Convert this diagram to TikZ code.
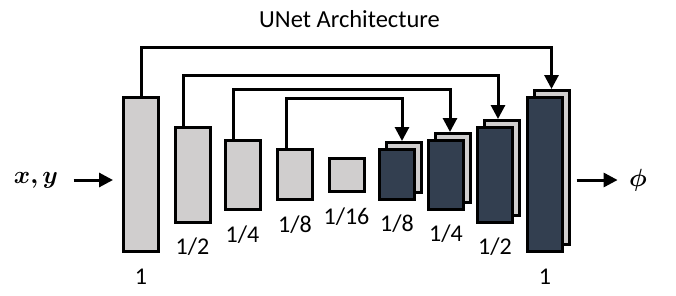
\documentclass[tikz,border=0pt]{standalone}
\usepackage{amsmath, amssymb, bm}
\usepackage{fontspec}
\setmainfont{Carlito}
\usepackage{tikz}
\usetikzlibrary{arrows.meta, calc, positioning}
\definecolor{hell}{HTML}{D0CECE}
\definecolor{dunkel}{HTML}{333F50}

\begin{document}
\begin{tikzpicture}[x=1pt, y=-1pt,
        enc/.style={draw, line width=3pt, fill=hell, minimum width=35pt,
                    inner sep=0pt},
        dec/.style={enc, fill=dunkel},
        arr/.style={-{Triangle[length=14pt, width=14pt]}, line width=3pt},
        lbl/.style={font=\fontsize{24}{28}\selectfont},
        mathlbl/.style={font=\fontsize{25}{30}\selectfont}
      ]
      \useasboundingbox (0,0) rectangle (676,295);
      \node[font=\fontsize{24.5}{29}\selectfont] (titel) at (349.5,19) {UNet Architecture};

      % encoder
      \node[enc, minimum height=154pt] (e1) at (141,174.5) {};
      \node[enc, minimum height=95pt]  (e2) at (192.5,175) {};
      \node[enc, minimum height=69pt]  (e3) at (242.5,175) {};
      \node[enc, minimum height=50pt]  (e4) at (295,174.5) {};
      \node[enc, minimum height=33pt]  (e5) at (346.5,175) {};

      % decoder, copied features behind
      \node[enc, minimum height=50pt]  (d4b) at (403.5,167.5) {};
      \node[dec, minimum height=50pt]  (d4)  at (397,174.5) {};
      \node[enc, minimum height=69pt]  (d3b) at (452.5,168) {};
      \node[dec, minimum height=69pt]  (d3)  at (446,175) {};
      \node[enc, minimum height=95pt]  (d2b) at (501.5,168) {};
      \node[dec, minimum height=95pt]  (d2)  at (495,175) {};
      \node[enc, minimum height=154pt] (d1b) at (551.5,167.5) {};
      \node[dec, minimum height=154pt] (d1)  at (545,174.5) {};

      % scales
      \node[lbl] (le1) at ([yshift=-24pt]e1.south) {1};
      \node[lbl] (le2) at ([yshift=-23pt]e2.south) {1/2};
      \node[lbl] (le3) at ([yshift=-24pt]e3.south) {1/4};
      \node[lbl] (le4) at ([yshift=-24pt]e4.south) {1/8};
      \node[lbl] (le5) at ([yshift=-24pt]e5.south) {1/16};
      \node[lbl] (ld4) at ([yshift=-23pt]d4.south) {1/8};
      \node[lbl] (ld3) at ([yshift=-23pt]d3.south) {1/4};
      \node[lbl] (ld2) at ([yshift=-23pt]d2.south) {1/2};
      \node[lbl] (ld1) at ([yshift=-24pt]d1.south) {1};

      % skip connections
      \coordinate (lv1) at (0,47);
      \coordinate (lv2) at (0,75);
      \coordinate (lv3) at (0,89);
      \coordinate (lv4) at (0,98);
      \draw[arr] (e1.north) -- (e1.north |- lv1) -| (d1b.north);
      \draw[arr] ([xshift=-9.5pt]e2.north) -- ([xshift=-9.5pt]e2.north |- lv2) -| ([xshift=-3.5pt]d2b.north);
      \draw[arr] ([xshift=-9.5pt]e3.north) -- ([xshift=-9.5pt]e3.north |- lv3) -| ([xshift=-2.5pt]d3b.north);
      \draw[arr] ([xshift=-9pt]e4.north) -- ([xshift=-9pt]e4.north |- lv4) -| ([xshift=-1.5pt]d4b.north);

      % input and output
      \node[mathlbl] (inp) at (36,180) {$\bm{x,y}$};
      \node[mathlbl] (out) at (638,180) {$\bm{\phi}$};
      \draw[arr, shorten <=12pt, shorten >=9pt] (inp.east) -- (inp.east -| e1.west);
      \draw[arr, shorten <=6pt, shorten >=8pt] (d1b.east |- out) -- (out.west);
    \end{tikzpicture}
\end{document}
